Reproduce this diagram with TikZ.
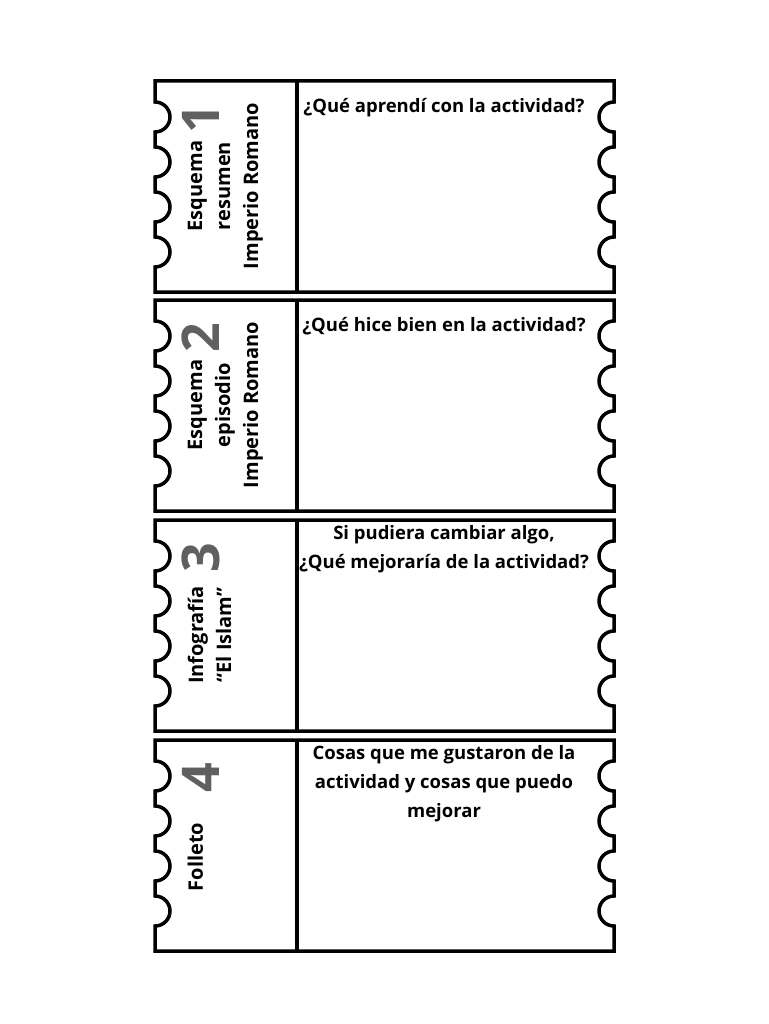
\documentclass[tikz,border=0pt]{standalone}
\usepackage{fontspec}
\setmainfont{Open Sans}
\begin{document}
\begin{tikzpicture}[x=1pt,y=-1pt,line width=3.5pt,
  lab/.style={font=\fontsize{20}{28}\selectfont\bfseries,align=center},
  qst/.style={font=\fontsize{18.5}{29}\selectfont\bfseries,align=center},
  num/.style={font=\fontsize{52}{52}\selectfont\bfseries,text=gray!75!black,rotate=90}]
\useasboundingbox (0,0) rectangle (768,1024);
\newcommand{\ticket}[6]{%
 \begin{scope}[yshift=-#1]
 \draw[line join=miter] (155,0) -- (614,0)
   -- (614,21) arc[start angle=90,end angle=270,radius=15pt] -- (614,66) arc[start angle=90,end angle=270,radius=15pt]
   -- (614,111) arc[start angle=90,end angle=270,radius=15pt] -- (614,156) arc[start angle=90,end angle=270,radius=15pt]
   -- (614,211) -- (155,211)
   -- (155,186) arc[start angle=-90,end angle=90,radius=15pt] -- (155,141) arc[start angle=-90,end angle=90,radius=15pt]
   -- (155,96) arc[start angle=-90,end angle=90,radius=15pt] -- (155,51) arc[start angle=-90,end angle=90,radius=15pt]
   -- cycle;
 \draw (297,0) -- (297,211);
 \node[num] (n#2) at (201,38) {#2};
 \node[lab,rotate=90,anchor=north,inner sep=0pt] (l#2) at (186,#3) {#4};
 \node[qst,anchor=north] (q#2) at (444,#6) {#5};
 \end{scope}}
\ticket{81}{1}{105}{Esquema\\resumen\\Imperio Romano}{¿Qué aprendí con la actividad?}{12}
\ticket{300}{2}{105}{Esquema\\episodio\\Imperio Romano}{¿Qué hice bien en la actividad?}{12}
\ticket{520}{3}{115}{Infografía\\“El Islam”}{Si pudiera cambiar algo,\\¿Qué mejoraría de la actividad?}{0}
\ticket{740}{4}{117}{Folleto}{Cosas que me gustaron de la\\actividad y cosas que puedo\\mejorar}{0}
\end{tikzpicture}
\end{document}
